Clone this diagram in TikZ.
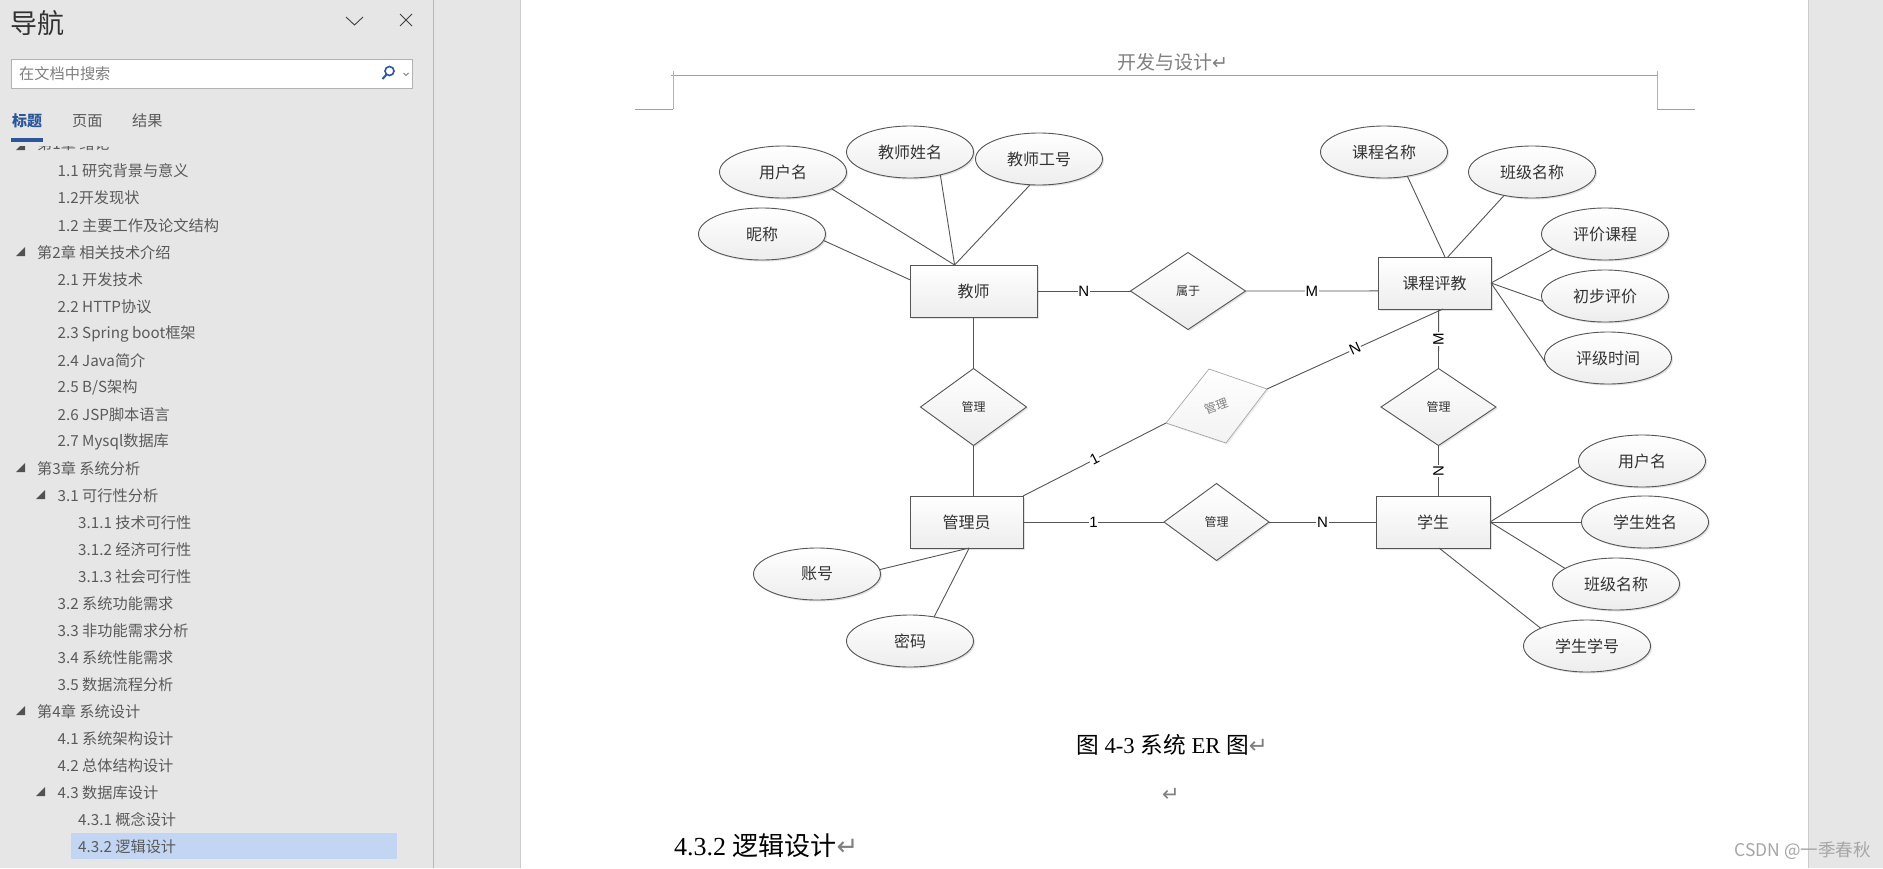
\documentclass[tikz,border=0pt]{standalone}
\usepackage{fontspec}
\usepackage{tikz}
\usetikzlibrary{shapes.geometric}
\usetikzlibrary{shadows}
\setmainfont{Noto Sans CJK SC}
\newfontfamily\latinserif{Liberation Serif}
\newfontfamily\latinsans{Liberation Sans}
\newfontfamily\symfont{DejaVu Sans}
\definecolor{panelgray}{HTML}{E6E6E6}
\definecolor{navtext}{HTML}{5A5A5A}
\definecolor{navblue}{HTML}{2B579A}
\definecolor{navhigh}{HTML}{C2D5F2}
\definecolor{erline}{HTML}{555555}
\tikzset{
	navone/.style={anchor=west,inner sep=0,yshift=-1pt,text=navtext,font=\fontsize{15.2}{18}\selectfont},
	navtri/.style={fill=navtext!90!black},
	shapefill/.style={draw=erline,line width=0.9pt,top color=white,bottom color=gray!14,
		drop shadow={shadow xshift=1.5pt,shadow yshift=-1.5pt,fill=gray!50,opacity=0.45},
		inner sep=0,outer sep=0,text=black!80},
	attr/.style={shapefill,ellipse,minimum width=127pt,minimum height=52pt,font=\fontsize{16}{18}\selectfont},
	entity/.style={shapefill,rectangle,minimum height=52pt,font=\fontsize{16}{18}\selectfont},
	relation/.style={shapefill,diamond,minimum height=77pt,font=\fontsize{12}{14}\selectfont},
	erlink/.style={draw=erline,line width=0.9pt},
	cardlabel/.style={fill=white,inner sep=0.8pt,text=black,font=\latinsans\fontsize{15}{16}\selectfont},
	hdrline/.style={draw=gray!75,line width=0.8pt}
}
\newcommand{\retmark}{{\symfont\color{gray}↵}}
\begin{document}
\begin{tikzpicture}[x=1pt,y=-1pt]	%pixel units
\useasboundingbox (0,0) rectangle (1883,868);
%window background
\fill[panelgray] (0,0) rectangle (1883,868);
\fill[white] (521,0) rectangle (1808,868);
\draw[gray!40,line width=0.8pt] (520.5,0)--(520.5,868);
\draw[gray!40,line width=0.8pt] (1808,0)--(1808,868);
\draw[gray!55,line width=1pt] (433,0)--(433,868);

%nav - head
\node[anchor=west,inner sep=0,text=black!80,font=\fontsize{27}{30}\selectfont] (navtitle) at (10,23) {导航};
\draw[black!75,line width=0.9pt] (346,17)--(354.5,25)--(363,17);	%collapse
\draw[black!75,line width=0.9pt] (400,14)--(412,26);				%close
\draw[black!75,line width=0.9pt] (412,14)--(400,26);
%nav - search
\draw[fill=white,draw=gray!60,line width=0.9pt] (11.5,59.5) rectangle (412.5,88.5);
\node[navone,text=gray] (navsearch) at (19,72.5) {在文档中搜索};
\draw[navblue,line width=1.6pt] (389.5,71) circle (4.5);
\draw[navblue,line width=2pt] (386.5,74.5)--(382.5,79);
\draw[gray,line width=0.8pt] (403.5,73)--(406,75.5)--(408.5,73);
%nav - tabs
\node[navone,text=navblue,font=\bfseries\fontsize{15}{18}\selectfont] (tabhead) at (12,120) {标题};
\node[navone] (tabpage) at (72,120) {页面};
\node[navone] (tabresult) at (132,120) {结果};
\fill[navblue] (11,138) rectangle (43,142);

%nav - list
\begin{scope}
\clip (0,146.5) rectangle (433,160);
\node[navone] (navch1) at (37,143) {第1章 绪论};
\fill[navtri] (16,150)--(25,150)--(25,141)--cycle;
\end{scope}
\fill[navhigh] (71,833) rectangle (397,859);
\node[navone] (nav11) at (57.5,170) {1.1 研究背景与意义};
\node[navone] (nav12) at (57.5,197) {1.2开发现状};
\node[navone] (nav13) at (57.5,224.5) {1.2 主要工作及论文结构};
\node[navone] (navch2) at (37,251.5) {第2章 相关技术介绍};
\node[navone] (nav21) at (57.5,278.5) {2.1 开发技术};
\node[navone] (nav22) at (57.5,305.5) {2.2 HTTP协议};
\node[navone] (nav23) at (57.5,332.5) {2.3 Spring boot框架};
\node[navone] (nav24) at (57.5,359.5) {2.4 Java简介};
\node[navone] (nav25) at (57.5,386.5) {2.5 B/S架构};
\node[navone] (nav26) at (57.5,413.5) {2.6 JSP脚本语言};
\node[navone] (nav27) at (57.5,440.5) {2.7 Mysql数据库};
\node[navone] (navch3) at (37,467.5) {第3章 系统分析};
\node[navone] (nav31) at (57.5,494.5) {3.1 可行性分析};
\node[navone] (nav311) at (78,521.5) {3.1.1 技术可行性};
\node[navone] (nav312) at (78,548.5) {3.1.2 经济可行性};
\node[navone] (nav313) at (78,575.5) {3.1.3 社会可行性};
\node[navone] (nav32) at (57.5,602.5) {3.2 系统功能需求};
\node[navone] (nav33) at (57.5,629.5) {3.3 非功能需求分析};
\node[navone] (nav34) at (57.5,656.5) {3.4 系统性能需求};
\node[navone] (nav35) at (57.5,683.5) {3.5 数据流程分析};
\node[navone] (navch4) at (37,710.5) {第4章 系统设计};
\node[navone] (nav41) at (57.5,737.5) {4.1 系统架构设计};
\node[navone] (nav42) at (57.5,764.5) {4.2 总体结构设计};
\node[navone] (nav43) at (57.5,791.5) {4.3 数据库设计};
\node[navone] (nav431) at (78,818.5) {4.3.1 概念设计};
\node[navone] (nav432) at (78,846) {4.3.2 逻辑设计};
%nav - triangles
\fill[navtri] (16,256)--(25,256)--(25,247)--cycle;	%ch2
\fill[navtri] (16,472)--(25,472)--(25,463)--cycle;	%ch3
\fill[navtri] (36,499)--(45,499)--(45,490)--cycle;	%3.1
\fill[navtri] (16,715)--(25,715)--(25,706)--cycle;	%ch4
\fill[navtri] (36,796)--(45,796)--(45,787)--cycle;	%4.3

%page header
\node[inner sep=0,text=gray,font=\fontsize{19}{22}\selectfont] (pagehead) at (1172.5,62) {开发与设计\retmark};
\draw[hdrline] (671,75.5)--(1658,75.5);
\draw[draw=gray!60,line width=0.6pt] (673,71)--(673,109);
\draw[draw=gray!60,line width=0.6pt] (1657,71)--(1657,109);
\draw[hdrline] (635,109)--(673,109);
\draw[hdrline] (1657,109)--(1695,109);

%er - teacher side
\node[entity,minimum width=127pt] (teacher) at (973.5,291) {教师};
\node[attr] (tuser) at (783,172) {用户名};
\node[attr] (tname) at (910,152) {教师姓名};
\node[attr] (tnum) at (1039,159) {教师工号};
\node[attr] (tnick) at (762,234) {昵称};
\node[relation,minimum width=115pt] (belong) at (1188,291) {属于};
\node[relation,minimum width=106pt] (mgrleft) at (973.5,407) {管理};
%er - course side
\node[entity,minimum width=113pt] (course) at (1434.5,283) {课程评教};
\node[attr] (cname) at (1384,152) {课程名称};
\node[attr] (cclass) at (1532,172) {班级名称};
\node[attr] (cjudge) at (1605,234) {评价课程};
\node[attr] (cfirst) at (1605,296) {初步评价};
\node[attr] (ctime) at (1608,358) {评级时间};
\node[relation,minimum width=115pt] (mgrright) at (1438.5,407) {管理};
%er - admin side
\node[entity,minimum width=113pt] (admin) at (966.5,522) {管理员};
\node[attr] (aacc) at (817,574) {账号};
\node[attr] (apwd) at (910,641) {密码};
\node[relation,minimum width=105pt] (mgrbottom) at (1216.5,522) {管理};
%er - student side
\node[entity,minimum width=114pt] (student) at (1433,522) {学生};
\node[attr] (suser) at (1642,461) {用户名};
\node[attr] (sname) at (1645,522) {学生姓名};
\node[attr] (sclass) at (1616,584) {班级名称};
\node[attr] (snum) at (1587,646) {学生学号};
%er - tilted relation
\coordinate (skewn) at (1209,369);
\coordinate (skewe) at (1267,389);
\coordinate (skews) at (1226,443);
\coordinate (skeww) at (1166,423);
\path[draw=gray!70,line width=0.7pt,top color=white,bottom color=gray!10,
	drop shadow={shadow xshift=1.5pt,shadow yshift=-1.5pt,fill=gray!40,opacity=0.35}]
	(skewn)--(skewe)--(skews)--(skeww)--cycle;
\node[rotate=20,inner sep=0,text=gray,font=\fontsize{12}{14}\selectfont] (skewtext) at (1216,406) {管理};

%teacher - lines
\draw[erlink] (tnick.-6)--(teacher.170);		%nick--teacher
\draw[erlink] (tuser.-19)--(teacher.126);		%user--teacher
\draw[erlink] (tname.-37)--(teacher.126);		%name--teacher
\draw[erlink] (tnum.-109)--(teacher.126);		%num--teacher
\draw[erlink] (teacher.east)--node[cardlabel] (cardtn) {N} (belong.west);
\draw[erlink] (belong.east)--node[cardlabel] (cardbm) {M} (course.188);
\draw[erlink] (teacher.south)--(mgrleft.north);
\draw[erlink] (mgrleft.south)--(admin.75);
%course - lines
\draw[erlink] (cname.-46)--(course.68);			%name--course
\draw[erlink] (cclass.220)--(course.63);		%class--course
\draw[erlink] (course.east)--(cjudge.196);		%course--judge
\draw[erlink] (course.east)--(cfirst.185);		%course--first
\draw[erlink] (course.east)--(ctime.184);		%course--time
\draw[erlink] (course.-81)--node[cardlabel,rotate=90] (cardcm) {M} (mgrright.north);
\draw[erlink] (mgrright.south)--node[cardlabel,rotate=90] (cardsn) {N} (student.78);
%admin - lines
\draw[erlink] (aacc.4.5)--(admin.-84.5);		%acc--admin
\draw[erlink] (apwd.45)--(admin.-84.5);			%pwd--admin
\draw[erlink] (admin.north east)--node[cardlabel,sloped] (cardas) {1} (skeww);
\draw[erlink] (skewe)--node[cardlabel,sloped] (cardsc) {N} (course.-72);
\draw[erlink] (admin.east)--node[cardlabel] (cardam) {1} (mgrbottom.west);
\draw[erlink] (mgrbottom.east)--node[cardlabel] (cardms) {N} (student.west);
%student - lines
\draw[erlink] (student.east)--(suser.185);		%student--user
\draw[erlink] (student.east)--(sname.west);		%student--name
\draw[erlink] (student.east)--(sclass.163);		%student--class
\draw[erlink] (student.-77)--(snum.159);		%student--num

%page text
\node[anchor=west,inner sep=0,text=black,font=\fontsize{22.7}{25}\selectfont] (caption) at (1076,745)
	{图{\latinserif\ 4-3 }系统{\latinserif\ ER }图\retmark};
\node[inner sep=0,font=\fontsize{21}{24}\selectfont] (blankmark) at (1171,795) {\retmark};
\node[anchor=west,inner sep=0,text=black,font=\fontsize{26}{28}\selectfont] (nexthead) at (674,846)
	{{\latinserif 4.3.2 }逻辑设计\retmark};
\node[anchor=east,inner sep=0,text=gray!70,font=\fontsize{17.5}{20}\selectfont] (mark) at (1871,851) {CSDN @一季春秋};
\end{tikzpicture}
\end{document}
